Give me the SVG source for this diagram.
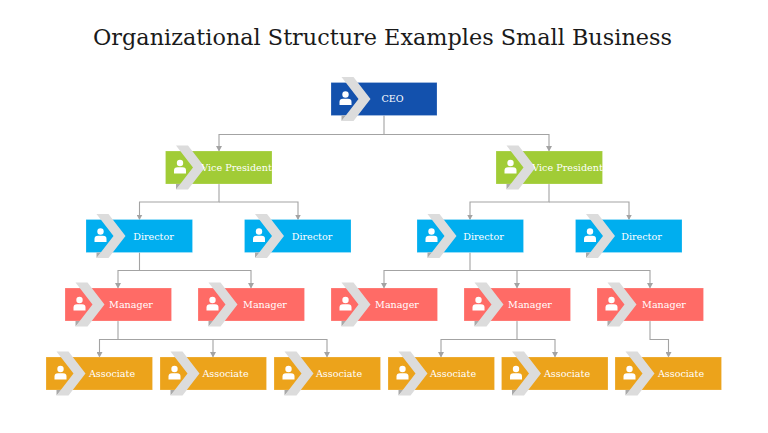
<svg xmlns="http://www.w3.org/2000/svg" width="768" height="433" viewBox="0 0 768 433">
<style>
.t{font-family:"DejaVu Serif",serif;font-size:22.35px;fill:#1a1a1a;text-anchor:middle}
.l{font-family:"DejaVu Serif",serif;font-size:9.6px;fill:#fff;text-anchor:middle}
.b{stroke:#fff;stroke-opacity:.35;stroke-width:.6}
.c{fill:none;stroke:#a3a3a3;stroke-width:1.1}
.ceo{fill:#1351ad}.vp{fill:#a1cc36}.dir{fill:#00aeef}.mgr{fill:#ff6b66}.asc{fill:#eca31b}
</style>
<defs>
<marker id="a" markerWidth="6" markerHeight="6" refX="5" refY="3" orient="auto" markerUnits="userSpaceOnUse"><path d="M0 0L5.500 3L0 6Z" fill="#a3a3a3"/></marker>
<g id="deco">
<path d="M10.500 33L10.500 38.500L15.500 33Z" fill="#a9a9a9"/>
<path d="M10.500-5.500H22.500L39.500 16.500L22.500 38.500H10.500L27.500 16.500Z" fill="#dcdcdc"/>
<circle cx="14.500" cy="12" r="3.200" fill="#fff"/>
<path d="M8.500 22.500V19.500Q8.500 16.300 12 16.300H17Q20.500 16.300 20.500 19.500V22.500Z" fill="#fff"/>
</g>
</defs>
<text class="t" x="382.500" y="44.500">Organizational Structure Examples Small Business</text>
<g id="connectors" class="c">
<path d="M384 115.500V134.500H219V151" marker-end="url(#a)"/>
<path d="M384 134.500H549V151" marker-end="url(#a)"/>
<path d="M219 184V202H139.500V219.500" marker-end="url(#a)"/>
<path d="M219 202H298V219.500" marker-end="url(#a)"/>
<path d="M549 184V202H470V219.500" marker-end="url(#a)"/>
<path d="M549 202H629V219.500" marker-end="url(#a)"/>
<path d="M139.500 252.500V270.500H118V288" marker-end="url(#a)"/>
<path d="M139.500 270.500H251V288" marker-end="url(#a)"/>
<path d="M470 252.500V270.500H384V288" marker-end="url(#a)"/>
<path d="M470 270.500H517V288" marker-end="url(#a)"/>
<path d="M470 270.500H650V288" marker-end="url(#a)"/>
<path d="M118 321V339.500H99.500V357" marker-end="url(#a)"/>
<path d="M118 339.500H213V357" marker-end="url(#a)"/>
<path d="M118 339.500H327V357" marker-end="url(#a)"/>
<path d="M517 321V339.500H441V357" marker-end="url(#a)"/>
<path d="M517 339.500H555V357" marker-end="url(#a)"/>
<path d="M650 321V339.500H668.500V357" marker-end="url(#a)"/>
</g>
<g id="ceo" transform="translate(331 82.500)"><rect class="b ceo" width="106" height="33"/><use href="#deco"/><text class="l" x="61.500" y="19.500">CEO</text></g>
<g id="vp1" transform="translate(165.500 151)"><rect class="b vp" width="106.500" height="33"/><use href="#deco"/><text class="l" x="71" y="20">Vice President</text></g>
<g id="vp2" transform="translate(496 151)"><rect class="b vp" width="106.500" height="33"/><use href="#deco"/><text class="l" x="71.500" y="20">Vice President</text></g>
<g id="dir1" transform="translate(86 219.500)"><rect class="b dir" width="106.500" height="33"/><use href="#deco"/><text class="l" x="67.500" y="20">Director</text></g>
<g id="dir2" transform="translate(244.500 219.500)"><rect class="b dir" width="106.500" height="33"/><use href="#deco"/><text class="l" x="67.500" y="20">Director</text></g>
<g id="dir3" transform="translate(417 219.500)"><rect class="b dir" width="106.500" height="33"/><use href="#deco"/><text class="l" x="66.500" y="20">Director</text></g>
<g id="dir4" transform="translate(575.500 219.500)"><rect class="b dir" width="106.500" height="33"/><use href="#deco"/><text class="l" x="66" y="20">Director</text></g>
<g id="mgr1" transform="translate(65 288)"><rect class="b mgr" width="106.500" height="33"/><use href="#deco"/><text class="l" x="66" y="20">Manager</text></g>
<g id="mgr2" transform="translate(198 288)"><rect class="b mgr" width="106.500" height="33"/><use href="#deco"/><text class="l" x="67" y="20">Manager</text></g>
<g id="mgr3" transform="translate(331 288)"><rect class="b mgr" width="106.500" height="33"/><use href="#deco"/><text class="l" x="66" y="20">Manager</text></g>
<g id="mgr4" transform="translate(464 288)"><rect class="b mgr" width="106.500" height="33"/><use href="#deco"/><text class="l" x="66" y="20">Manager</text></g>
<g id="mgr5" transform="translate(597 288)"><rect class="b mgr" width="106.500" height="33"/><use href="#deco"/><text class="l" x="67" y="20">Manager</text></g>
<g id="asc1" transform="translate(46 357)"><rect class="b asc" width="106.500" height="33"/><use href="#deco"/><text class="l" x="66" y="20">Associate</text></g>
<g id="asc2" transform="translate(160 357)"><rect class="b asc" width="106.500" height="33"/><use href="#deco"/><text class="l" x="65.500" y="20">Associate</text></g>
<g id="asc3" transform="translate(274 357)"><rect class="b asc" width="106.500" height="33"/><use href="#deco"/><text class="l" x="65" y="20">Associate</text></g>
<g id="asc4" transform="translate(388 357)"><rect class="b asc" width="106.500" height="33"/><use href="#deco"/><text class="l" x="65" y="20">Associate</text></g>
<g id="asc5" transform="translate(501.500 357)"><rect class="b asc" width="106.500" height="33"/><use href="#deco"/><text class="l" x="65.500" y="20">Associate</text></g>
<g id="asc6" transform="translate(615 357)"><rect class="b asc" width="106.500" height="33"/><use href="#deco"/><text class="l" x="66" y="20">Associate</text></g>
</svg>
